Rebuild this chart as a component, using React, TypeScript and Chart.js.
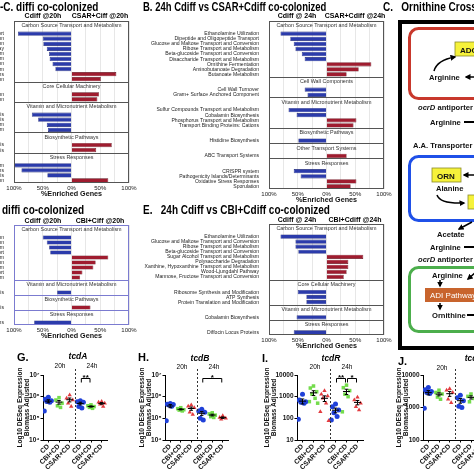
import React, { useEffect, useRef } from 'react';
import { Chart, registerables } from 'chart.js';
Chart.register(...registerables);

const FONT = '"Liberation Sans", Arial, Helvetica, sans-serif';
const BLUE = '#2b3bab';
const BLUE_EDGE = '#18206e';
const RED = '#9f1c2f';
const RED_EDGE = '#5c0c18';

// ---------- Panel A (Cdiff @20h vs CSAR+Ciff @20h) ----------
const A_SECTIONS = ['Carbon Source Transport and Metabolism', 'Core Cellular Machinery', 'Vitamin and Micronutrient Metabolism', 'Biosynthetic Pathways', 'Stress Responses'];
const A_LABELS = [
  ['Dipeptide and Oligopeptide Transport', 'Glucose and Maltose Transport and Conversion', 'Beta-glucoside Transport and Conversion', 'Wood-Ljungdahl Pathway', 'Ribose Transport and Metabolism', 'Disaccharide Transport and Metabolism', 'Mannose, Fructose Transport and Conversion', 'Butanoate Metabolism', 'Stickland Fermentations', 'Aminobutanoate Degradation'],
  ['Ribosome Synthesis and Modification', 'Protein Translation and Modification'],
  ['Cobalamin Biosynthesis', 'Thiamine Biosynthesis', 'Sulfur Compounds Transport and Metabolism', 'Phosphorus Transport and Metabolism'],
  ['Histidine Biosynthesis', 'Purine Biosynthesis'],
  ['CRISPR system', 'Diffocin Locus Proteins', 'Chemotaxis', 'Sporulation'],
];
const A_VALUES = [
  [-93, -50, -49, -43, -39, -38, -33, -28, 78, 51],
  [48, 45],
  [-69, -58, -43, -41],
  [70, 43],
  [-100, -87, -42, 64],
];

// ---------- Panel B (Cdiff @24h vs CSAR+Cdiff @24h) ----------
const B_SECTIONS = ['Carbon Source Transport and Metabolism', 'Cell Wall Components', 'Vitamin and Micronutrient Metabolism', 'Biosynthetic Pathways', 'Other Transport Systems', 'Stress Responses'];
const B_LABELS = [
  ['Ethanolamine Utilization', 'Dipeptide and Oligopeptide Transport', 'Glucose and Maltose Transport and Conversion', 'Ribose Transport and Metabolism', 'Beta-glucoside Transport and Conversion', 'Disaccharide Transport and Metabolism', 'Ornithine Fermentation', 'Aminobutanoate Degradation', 'Butanoate Metabolism'],
  ['Cell Wall Turnover', 'Gram+ Surface Anchored Component'],
  ['Sulfur Compounds Transport and Metabolism', 'Cobalamin Biosynthesis', 'Phosphorus Transport and Metabolism', 'Transport Binding Proteins: Cations'],
  ['Histidine Biosynthesis'],
  ['ABC Transport Systems'],
  ['CRISPR system', 'Pathogenicity Islands/Determinants', 'Oxidative Stress Responses', 'Sporulation'],
];
const B_VALUES = [
  [-80, -63, -57, -54, -43, -38, 78, 56, 35],
  [-38, -33],
  [-66, -52, 52, 47],
  [-49],
  [35],
  [-57, -45, 52, 42],
];

// ---------- Panel D (Cdiff @20h vs CBI+Ciff @20h) ----------
const D_SECTIONS = ['Carbon Source Transport and Metabolism', 'Vitamin and Micronutrient Metabolism', 'Biosynthetic Pathways', 'Stress Responses'];
const D_LABELS = [
  ['Glucose and Maltose Transport and Conversion', 'Beta-glucoside Transport and Conversion', 'Ribose Transport and Metabolism', 'Dipeptide and Oligopeptide Transport', 'Sugar Alcohol Transport and Metabolism', 'Aminobutanoate Degradation', 'Butanoate Metabolism', 'Ethanolamine Transport', 'Disaccharide Transport and Metabolism'],
  ['Cobalamin Biosynthesis'],
  ['Histidine Biosynthesis'],
  ['Diffocin Locus Proteins'],
];
const D_VALUES = [
  [-50, -43, -39, -37, 64, 42, 38, 19, 15],
  [-25],
  [33],
  [-65],
];

// ---------- Panel E (Cdiff @24h vs CBI+Cdiff @24h) ----------
const E_SECTIONS = ['Carbon Source Transport and Metabolism', 'Core Cellular Machinery', 'Vitamin and Micronutrient Metabolism', 'Stress Responses'];
const E_LABELS = [
  ['Ethanolamine Utilization', 'Glucose and Maltose Transport and Conversion', 'Ribose Transport and Metabolism', 'Beta-glucoside Transport and Conversion', 'Sugar Alcohol Transport and Metabolism', 'Polysaccharide Degradation', 'Xanthine, Hypoxanthine Transport and Metabolism', 'Wood-Ljungdahl Pathway', 'Mannose, Fructose Transport and Conversion'],
  ['Ribosome Synthesis and Modification', 'ATP Synthesis', 'Protein Translation and Modification'],
  ['Cobalamin Biosynthesis'],
  ['Diffocin Locus Proteins'],
];
const E_VALUES = [
  [-80, -54, -54, -49, 64, 38, 38, 35, 30],
  [-50, -35, -35],
  [-52],
  [-57],
];

// ---------- Panels G-J (DESeq expression) ----------
const GROUP_NAMES = ['CD', 'CBI+CD', 'CSAR+CD', 'CD', 'CBI+CD', 'CSAR+CD'];
const JITTER = [0, -0.32, 0.32, -0.16, 0.16, -0.42, 0.42];
const MARKER_COLORS = ['#1f40d8', '#74dc4c', '#e23b3f'];
const MARKER_STYLES = ['circle', 'rect', 'triangle'];

const G_VALUES = [
  [950000, 750000, 650000, 600000, 550000, 220000],
  [900000, 700000, 500000, 380000, 320000],
  [1200000, 850000, 700000, 500000, 350000],
  [650000, 580000, 550000, 350000, 300000],
  [420000, 380000, 350000, 320000, 290000],
  [600000, 550000, 500000, 450000, 350000],
];
const H_VALUES = [
  [490000, 450000, 440000, 410000, 360000, 78000],
  [310000, 280000, 250000, 240000, 220000],
  [410000, 360000, 310000, 190000, 150000],
  [260000, 220000, 190000, 100000, 84000],
  [180000, 160000, 140000, 120000, 110000],
  [130000, 110000, 100000, 90000],
];
const I_VALUES = [
  [1300, 700, 590, 550, 500, 90],
  [3100, 2500, 1700, 1300, 840, 590, 500],
  [1900, 1300, 1070, 840, 500, 200, 78],
  [460, 345, 240, 180, 120, 84],
  [3400, 2600, 1900, 1300, 1000, 200],
  [930, 700, 500, 345, 240],
];
const J_VALUES = [
  [4100, 3500, 3100, 2900, 2700, 950],
  [3400, 2900, 2600, 2100, 1800],
  [3800, 3400, 2900, 1800, 1400],
  [2400, 2000, 1600, 1100, 1000],
  [2600, 2200, 1900, 1500],
  [3000, 2500, 2000, 1700],
];
const GH_TICKS = [1e4, 1e5, 1e6, 1e7];
const GH_TICK_LABELS = ['10⁴', '10⁵', '10⁶', '10⁷'];
const I_TICKS = [10, 100, 1000, 10000];
const I_TICK_LABELS = ['10', '100', '1000', '10000'];
const J_TICKS = [100, 1000, 10000];
const J_TICK_LABELS = ['100', '1000', '10000'];
const G_BRACKETS = [{ from: 3, to: 4, text: '**' }];
const H_BRACKETS = [{ from: 3, to: 5, text: '*' }];
const I_BRACKETS = [{ from: 3, to: 4, text: '**' }, { from: 4, to: 5, text: '*' }];
const J_BRACKETS: { from: number; to: number; text: string }[] = [];

function BarPanel(p: any) {
  const ref = useRef<HTMLCanvasElement>(null);
  useEffect(() => {
    const rowLabels: string[] = [];
    const rowVals: (number | null)[] = [];
    const headerRows: number[] = [];
    p.sections.forEach((s: string, i: number) => {
      headerRows.push(rowLabels.length);
      rowLabels.push('', '');
      rowVals.push(null, null);
      p.labels[i].forEach((l: string, j: number) => {
        rowLabels.push(l);
        rowVals.push(p.values[i][j]);
      });
    });
    const plugin = {
      id: 'sections',
      afterDraw(chart: any) {
        const { ctx, chartArea: a, scales } = chart;
        const y = scales.y;
        const rowH = Math.abs(y.getPixelForValue(1) - y.getPixelForValue(0));
        ctx.save();
        ctx.lineWidth = 1;
        ctx.strokeStyle = p.frame;
        ctx.fillStyle = '#333';
        ctx.font = `5.4px ${FONT}`;
        ctx.textAlign = 'center';
        ctx.textBaseline = 'middle';
        headerRows.forEach((r, i) => {
          const y0 = y.getPixelForValue(r) - rowH / 2;
          if (i > 0) {
            ctx.beginPath();
            ctx.moveTo(a.left, Math.round(y0) + 0.5);
            ctx.lineTo(a.right, Math.round(y0) + 0.5);
            ctx.stroke();
          }
          ctx.fillText(p.sections[i], (a.left + a.right) / 2, y0 + rowH * 0.95);
        });
        ctx.strokeRect(Math.round(a.left) + 0.5, Math.round(a.top) + 0.5, Math.round(a.right - a.left) - 1, Math.round(a.bottom - a.top) - 1);
        ctx.restore();
      },
    };
    const chart = new Chart(ref.current as HTMLCanvasElement, {
      type: 'bar',
      data: {
        labels: rowLabels,
        datasets: [{
          data: rowVals,
          backgroundColor: rowVals.map((v) => (v !== null && v < 0 ? BLUE : RED)),
          borderColor: rowVals.map((v) => (v !== null && v < 0 ? BLUE_EDGE : RED_EDGE)),
          borderWidth: 0.6,
          barPercentage: 0.84,
          categoryPercentage: 1,
        }],
      },
      options: {
        indexAxis: 'y',
        animation: false,
        responsive: false,
        maintainAspectRatio: false,
        layout: { padding: { top: p.padTop, right: p.padRight, left: 0, bottom: 0 } },
        plugins: { legend: { display: false }, tooltip: { enabled: false } },
        scales: {
          x: {
            min: -100,
            max: 100,
            afterFit: (s: any) => { s.height = p.xAxisH; },
            grid: { color: '#dcdcdc', lineWidth: 0.7, drawTicks: false },
            border: { display: false },
            ticks: {
              stepSize: 25,
              autoSkip: false,
              maxRotation: 0,
              padding: 1.5,
              color: '#222',
              font: { size: 6, family: FONT },
              callback: (v: any) => (Number(v) % 50 === 0 ? Math.abs(Number(v)) + '%' : ''),
            },
            title: { display: true, text: '%Enriched Genes', color: '#111', font: { size: 7.2, weight: 'bold', family: FONT, lineHeight: 1 }, padding: { top: 0, bottom: 0 } },
          },
          y: {
            afterFit: (s: any) => { s.width = p.axisW; },
            grid: { display: false },
            border: { display: false },
            ticks: { autoSkip: false, padding: 2, color: '#222', font: { size: 5.1, family: FONT } },
          },
        },
      },
      plugins: [plugin],
    } as any);
    return () => chart.destroy();
  }, []);
  return <canvas ref={ref} width={p.width} height={p.height} style={{ position: 'absolute', left: p.left, top: p.top, width: p.width, height: p.height }} />;
}

function DotPanel(p: any) {
  const ref = useRef<HTMLCanvasElement>(null);
  useEffect(() => {
    const datasets = p.groups.map((vals: number[], g: number) => ({
      data: vals.map((v, k) => ({ x: g + JITTER[k % JITTER.length] * 0.9, y: v })),
      pointStyle: MARKER_STYLES[g % 3],
      pointRadius: 2.5,
      backgroundColor: MARKER_COLORS[g % 3],
      borderColor: MARKER_COLORS[g % 3],
      borderWidth: 0,
    }));
    const plugin = {
      id: 'stats',
      afterDatasetsDraw(chart: any) {
        const { ctx, chartArea: a, scales } = chart;
        const x = scales.x;
        const y = scales.y;
        const line = (x1: number, y1: number, x2: number, y2: number) => {
          ctx.beginPath(); ctx.moveTo(x1, y1); ctx.lineTo(x2, y2); ctx.stroke();
        };
        ctx.save();
        ctx.strokeStyle = '#000';
        ctx.lineWidth = 1;
        p.groups.forEach((vals: number[], g: number) => {
          const n = vals.length;
          const m = vals.reduce((s, v) => s + v, 0) / n;
          const sd = Math.sqrt(vals.reduce((s, v) => s + (v - m) ** 2, 0) / (n - 1));
          const se = sd / Math.sqrt(n);
          const cx = x.getPixelForValue(g);
          const w = x.getPixelForValue(g + 0.32) - cx;
          const ym = y.getPixelForValue(m);
          const yt = y.getPixelForValue(m + se);
          const yb = y.getPixelForValue(Math.max(m - se, y.min));
          line(cx - w, ym, cx + w, ym);
          line(cx, yt, cx, yb);
          line(cx - w / 2, yt, cx + w / 2, yt);
          line(cx - w / 2, yb, cx + w / 2, yb);
        });
        const dx = Math.round(x.getPixelForValue(2.5)) + 0.5;
        ctx.setLineDash([2, 2]);
        ctx.strokeStyle = '#333';
        line(dx, a.top - 6, dx, a.bottom);
        ctx.setLineDash([]);
        ctx.strokeStyle = '#000';
        ctx.fillStyle = '#000';
        ctx.font = `bold 8px ${FONT}`;
        ctx.textAlign = 'center';
        ctx.textBaseline = 'alphabetic';
        p.brackets.forEach((b: any) => {
          const x1 = x.getPixelForValue(b.from) + 1;
          const x2 = x.getPixelForValue(b.to) - 1;
          const by = a.top + 3.5;
          line(x1, by + 4, x1, by);
          line(x1, by, x2, by);
          line(x2, by, x2, by + 4);
          ctx.fillText(b.text, (x1 + x2) / 2, by + 1.5);
        });
        ctx.restore();
      },
    };
    const chart = new Chart(ref.current as HTMLCanvasElement, {
      type: 'scatter',
      data: { datasets },
      options: {
        animation: false,
        responsive: false,
        maintainAspectRatio: false,
        layout: { padding: { top: p.padTop, right: p.padRight, left: 0, bottom: 0 } },
        plugins: { legend: { display: false }, tooltip: { enabled: false } },
        scales: {
          x: {
            type: 'linear',
            min: -0.5,
            max: 5.5,
            afterFit: (s: any) => { s.height = p.xAxisH; },
            afterBuildTicks: (s: any) => { s.ticks = GROUP_NAMES.map((_, i) => ({ value: i })); },
            grid: { drawOnChartArea: false, tickLength: 2.5, color: '#000' },
            border: { color: '#000', width: 1 },
            ticks: {
              autoSkip: false,
              minRotation: 45,
              maxRotation: 45,
              padding: 0,
              color: '#111',
              font: { size: 6.8, weight: 'bold', family: FONT },
              callback: (v: any) => GROUP_NAMES[Math.round(Number(v))],
            },
          },
          y: {
            type: 'logarithmic',
            min: p.ticks[0],
            max: p.ticks[p.ticks.length - 1],
            afterFit: (s: any) => { s.width = p.axisW; },
            afterBuildTicks: (s: any) => { s.ticks = p.ticks.map((v: number) => ({ value: v })); },
            grid: { drawOnChartArea: false, tickLength: 2.5, color: '#000' },
            border: { color: '#000', width: 1 },
            ticks: {
              padding: 1,
              color: '#111',
              font: { size: 6.5, weight: 'bold', family: FONT },
              callback: (_v: any, i: number) => p.tickLabels[i],
            },
            title: {
              display: true,
              text: ['Log10 DESeq Expression', 'Biomass Adjusted'],
              color: '#111',
              font: { size: 6.6, weight: 'bold', family: FONT, lineHeight: 1.15 },
              padding: { top: p.titlePad, bottom: 0 },
            },
          },
        },
      },
      plugins: [plugin],
    } as any);
    return () => chart.destroy();
  }, []);
  return <canvas ref={ref} width={p.width} height={p.height} style={{ position: 'absolute', left: p.left, top: p.top, width: p.width, height: p.height }} />;
}

function T(props: any) {
  const { x, y, s, b, i, c, center, sx, children } = props;
  const scale = sx ? ` scaleX(${sx})` : '';
  return (
    <div style={{
      position: 'absolute', left: x, top: y, fontSize: s, fontWeight: b ? 'bold' : 'normal',
      fontStyle: i ? 'italic' : 'normal', fontFamily: FONT, whiteSpace: 'pre', lineHeight: 1,
      color: c || '#000', transformOrigin: 'left center',
      transform: (center ? 'translate(-50%,-50%)' : 'translateY(-50%)') + scale,
    }}>{children}</div>
  );
}

function Diagram() {
  const tb = { fontFamily: FONT, fontWeight: 'bold' as const, fontSize: 7.6, fill: '#111' };
  return (
    <svg width={474} height={474} style={{ position: 'absolute', left: 0, top: 0 }}>
      <defs>
        <marker id="ah" markerWidth="4" markerHeight="4" refX="3" refY="2" orient="auto">
          <path d="M0,0 L4,2 L0,4 z" fill="#000" />
        </marker>
      </defs>
      <rect x={400} y={22} width={110} height={326} fill="none" stroke="#000" strokeWidth={4} />
      <rect x={409.5} y={28.5} width={95} height={70} rx={9} fill="none" stroke="#c8382c" strokeWidth={3} />
      <rect x={455} y={42} width={34} height={14} fill="#f6f23a" stroke="#8a8a2a" strokeWidth={0.8} />
      <text x={460} y={52.5} {...tb} fontSize={8}>ADC</text>
      <path d="M434 71 Q437 60 455 57" fill="none" stroke="#000" strokeWidth={1.5} markerEnd="url(#ah)" />
      <text x={429} y={80} {...tb}>Arginine</text>
      <line x1={478} y1={77} x2={466} y2={77} stroke="#000" strokeWidth={1.5} markerEnd="url(#ah)" />
      <text x={418} y={110} {...tb}><tspan fontStyle="italic">ocrD</tspan> antiporter</text>
      <text x={430} y={125} {...tb}>Arginine</text>
      <line x1={464} y1={122} x2={478} y2={122} stroke="#000" strokeWidth={2} />
      <text x={413} y={148} {...tb}>A.A. Transporter</text>
      <rect x={409.5} y={156.5} width={95} height={64} rx={9} fill="none" stroke="#1f50e8" strokeWidth={3} />
      <rect x={432} y={168} width={29} height={14} fill="#f6f23a" stroke="#8a8a2a" strokeWidth={0.8} />
      <text x={437} y={178.5} {...tb} fontSize={8}>ORN</text>
      <line x1={478} y1={175} x2={464} y2={175} stroke="#000" strokeWidth={1.5} markerEnd="url(#ah)" />
      <text x={436} y={191} {...tb}>Alanine</text>
      <path d="M437 195 Q440 204 464 203" fill="none" stroke="#000" strokeWidth={1.5} markerEnd="url(#ah)" />
      <rect x={468} y={195} width={30} height={14} fill="#f6f23a" stroke="#8a8a2a" strokeWidth={0.8} />
      <line x1={472} y1={222} x2={459} y2={229} stroke="#000" strokeWidth={1.5} markerEnd="url(#ah)" />
      <text x={437} y={237} {...tb}>Acetate</text>
      <text x={430} y={250} {...tb}>Arginine</text>
      <line x1={464} y1={247} x2={478} y2={247} stroke="#000" strokeWidth={2} />
      <text x={418} y={262} {...tb}><tspan fontStyle="italic">ocrD</tspan> antiporter</text>
      <rect x={409.5} y={267.5} width={95} height={64} rx={9} fill="none" stroke="#4cae4c" strokeWidth={3} />
      <text x={432} y={278} {...tb}>Arginine</text>
      <line x1={476} y1={272} x2={468} y2={279} stroke="#000" strokeWidth={1.5} markerEnd="url(#ah)" />
      <line x1={440} y1={280} x2={440} y2={286} stroke="#000" strokeWidth={1.5} markerEnd="url(#ah)" />
      <rect x={425} y={288} width={70} height={14} fill="#c8642d" />
      <text x={430} y={298.3} fontFamily={FONT} fontSize={8} fill="#fff">ADI Pathway</text>
      <line x1={440} y1={303} x2={440} y2={309} stroke="#000" strokeWidth={1.5} markerEnd="url(#ah)" />
      <text x={432} y={318} {...tb}>Ornithine</text>
      <line x1={467} y1={315} x2={478} y2={315} stroke="#000" strokeWidth={2} />
    </svg>
  );
}

export default function App() {
  return (
    <div style={{ position: 'fixed', left: 0, top: 0, width: 474, height: 474, overflow: 'hidden', background: '#fff' }}>
      <BarPanel left={-100} top={13} width={240} height={185} axisW={114} padTop={8} padRight={11} xAxisH={15}
        sections={A_SECTIONS} labels={A_LABELS} values={A_VALUES} frame="#555" />
      <BarPanel left={120} top={13} width={274} height={191} axisW={149} padTop={8} padRight={10} xAxisH={15}
        sections={B_SECTIONS} labels={B_LABELS} values={B_VALUES} frame="#555" />
      <BarPanel left={-100} top={217} width={240} height={123} axisW={114} padTop={8} padRight={11} xAxisH={15}
        sections={D_SECTIONS} labels={D_LABELS} values={D_VALUES} frame="#7b7bd0" />
      <BarPanel left={120} top={216} width={274} height={134} axisW={149} padTop={8} padRight={10} xAxisH={15}
        sections={E_SECTIONS} labels={E_LABELS} values={E_VALUES} frame="#555" />

      <DotPanel left={0} top={366} width={116} height={108} axisW={43} padTop={9} padRight={9} xAxisH={34} titlePad={16}
        groups={G_VALUES} ticks={GH_TICKS} tickLabels={GH_TICK_LABELS} brackets={G_BRACKETS} />
      <DotPanel left={122} top={366} width={115} height={108} axisW={43} padTop={9} padRight={9} xAxisH={34} titlePad={16}
        groups={H_VALUES} ticks={GH_TICKS} tickLabels={GH_TICK_LABELS} brackets={H_BRACKETS} />
      <DotPanel left={250} top={366} width={122} height={108} axisW={47} padTop={9} padRight={9} xAxisH={34} titlePad={13}
        groups={I_VALUES} ticks={I_TICKS} tickLabels={I_TICK_LABELS} brackets={I_BRACKETS} />
      <DotPanel left={376} top={366} width={122} height={108} axisW={47} padTop={9} padRight={11} xAxisH={34} titlePad={19}
        groups={J_VALUES} ticks={J_TICKS} tickLabels={J_TICK_LABELS} brackets={J_BRACKETS} />

      <Diagram />

      <T x={0} y={7} s={12.5} b sx={0.8}>-C. diffi co-colonized</T>
      <T x={143} y={7} s={12.5} b sx={0.76}>B. 24h Cdiff vs CSAR+Cdiff co-colonized</T>
      <T x={383} y={7} s={12.5} b sx={0.8}>C.   Ornithine Cross-Feeding</T>
      <T x={43} y={15} s={7} b center>Cdiff @20h</T>
      <T x={100} y={15} s={7} b center>CSAR+Ciff @20h</T>
      <T x={297} y={15} s={7} b center>Cdiff @ 24h</T>
      <T x={355} y={15} s={7} b center>CSAR+Cdiff @24h</T>

      <T x={2} y={210} s={12.5} b sx={0.8}>diffi co-colonized</T>
      <T x={143} y={210} s={12.5} b sx={0.8}>E.   24h Cdiff vs CBI+Cdiff co-colonized</T>
      <T x={43} y={220} s={7} b center>Cdiff @20h</T>
      <T x={100} y={220} s={7} b center>CBI+Ciff @20h</T>
      <T x={297} y={219} s={7} b center>Cdiff @ 24h</T>
      <T x={355} y={219} s={7} b center>CBI+Cdiff @24h</T>

      <T x={17} y={357} s={11} b>G.</T>
      <T x={78} y={356} s={8.5} b i center>tcdA</T>
      <T x={60} y={366} s={6.5} center>20h</T>
      <T x={92} y={366} s={6.5} center>24h</T>
      <T x={138} y={357} s={11} b>H.</T>
      <T x={200} y={358} s={8.5} b i center>tcdB</T>
      <T x={182} y={367} s={6.5} center>20h</T>
      <T x={214} y={367} s={6.5} center>24h</T>
      <T x={262} y={358} s={11} b>I.</T>
      <T x={331} y={358} s={8.5} b i center>tcdR</T>
      <T x={315} y={367} s={6.5} center>20h</T>
      <T x={347} y={367} s={6.5} center>24h</T>
      <T x={398} y={361} s={11} b>J.</T>
      <T x={474} y={358} s={8.5} b i center>tcdE</T>
      <T x={442} y={368} s={6.5} center>20h</T>
    </div>
  );
}
